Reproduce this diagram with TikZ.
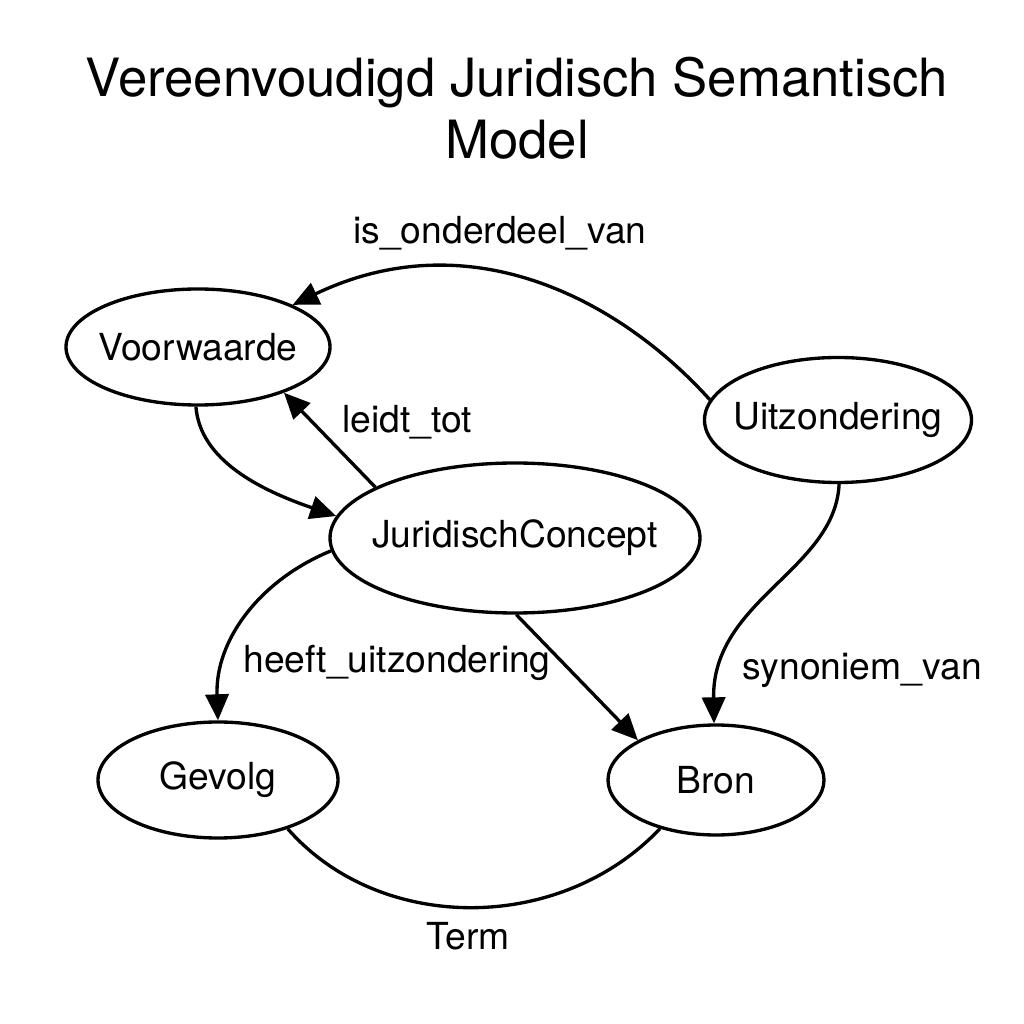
\documentclass[tikz,border=0pt]{standalone}
\usepackage{fontspec}
\setmainfont{TeX Gyre Heros}
\usetikzlibrary{shapes.geometric,arrows.meta}
\newcommand{\nametag}[1]{\makebox[0pt]{#1}}

\begin{document}
\begin{tikzpicture}[x=1cm,y=1cm,line width=.95pt,font=\fontsize{10.6}{12}\selectfont,
  concept/.style={ellipse,draw,inner sep=0pt},
  rel/.style={-{Triangle[length=7.4pt,width=6.6pt]}}]
\useasboundingbox (0,0) rectangle (10.24,10.24);
\node[align=center,font=\fontsize{15}{17.5}\selectfont] (title) at (5.1700,9.1600) {Vereenvoudigd Juridisch Semantisch\\Model};
\node[concept,minimum width=2.64cm,minimum height=1.16cm] (v) at (1.9800,6.7700) {\nametag{Voorwaarde}};
\node[concept,minimum width=2.67cm,minimum height=1.25cm] (u) at (8.3800,6.0400) {\nametag{Uitzondering}};
\node[concept,minimum width=3.70cm,minimum height=1.50cm] (j) at (5.1500,4.8600) {\nametag{JuridischConcept}};
\node[concept,minimum width=2.40cm,minimum height=1.16cm] (g) at (2.1800,2.4400) {\nametag{Gevolg}};
\node[concept,minimum width=2.16cm,minimum height=1.10cm] (b) at (7.1600,2.4400) {\nametag{Bron}};
\draw[rel] (u.171) .. controls (6.2000,7.2400) and (4.7000,8.0400) .. (v.24);
\draw[rel] (v.268) .. controls (2.0000,5.6400) and (2.6000,5.3400) .. (j.173);
\draw[rel] (j.160) -- (v.-28);
\draw[rel] (j.184) .. controls (2.6000,4.4400) and (2.1500,3.8400) .. (g.north);
\draw[rel] (j.-89) -- (b.153);
\draw[rel] (u.-89) .. controls (8.3500,4.5400) and (7.1200,4.2400) .. (b.92);
\draw (g.-35) .. controls (3.8000,0.9000) and (5.6000,0.9000) .. (b.221);
\node (l1) at (5.0000,7.9100) {is\_onderdeel\_van};
\node (l2) at (4.0700,6.0200) {leidt\_tot};
\node (l3) at (3.9700,3.6100) {heeft\_uitzondering};
\node (l4) at (8.6200,3.5400) {synoniem\_van};
\node (l5) at (4.6800,0.8800) {Term};
\end{tikzpicture}
\end{document}
